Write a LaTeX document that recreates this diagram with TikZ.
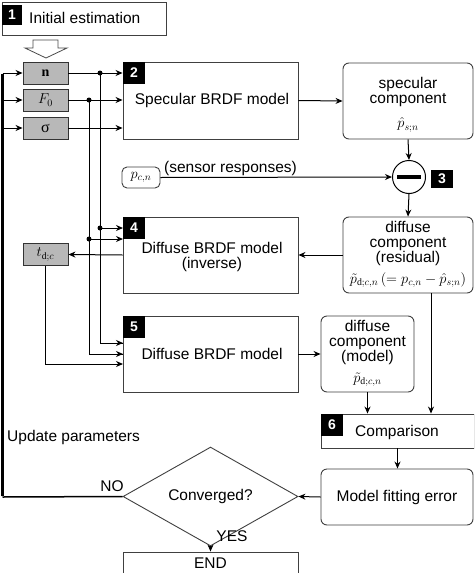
\documentclass[tikz,border=0pt]{standalone}
\usepackage{amsmath}
\usepackage{fontspec}
\setmainfont{Liberation Sans}
\newfontfamily\seriffont{Liberation Serif}
\usetikzlibrary{shapes.geometric,arrows.meta}
\newcommand{\fsz}{\fontsize{15.5}{16}\selectfont}
\newcommand{\msz}{\fontsize{14}{15}\selectfont}
\newcommand{\sd}{\text{\seriffont d}}
\tikzset{
  bx/.style={draw=black!75, line width=0.9pt, inner sep=0pt},
  rbx/.style={bx, rounded corners=6pt},
  prm/.style={draw=black!80, fill=black!28, line width=0.9pt, minimum width=45pt, minimum height=22pt, inner sep=0pt, font=\msz},
  num/.style={fill=black, text=white, font=\bfseries\fontsize{14}{14}\selectfont, minimum width=22pt, minimum height=22pt, inner sep=0pt},
  txt/.style={font=\fsz, inner sep=0pt, align=center},
  arr/.style={-{Stealth[length=7pt,width=6pt]}, line width=1pt},
  ln/.style={line width=1pt},
  jdot/.style={circle, fill, inner sep=0pt, minimum size=5pt},
}
\begin{document}
\begin{tikzpicture}[x=1pt,y=-1pt]
\clip (0,0) rectangle (474,573);
\fill[white] (0,0) rectangle (474,573);
% initial estimation
\node[bx, minimum width=164pt, minimum height=33pt] (init) at (84,18.5) {};
\node[num, minimum width=20pt, minimum height=20pt] (n1) at (12,15) {1};
\node[txt, anchor=west] (tinit) at (29,18) {Initial estimation};
\draw[draw=black!70, line width=0.8pt, fill=white] (33,40) -- (58,40) -- (58,48) -- (67,48) -- (46,58) -- (25,48) -- (33,48) -- cycle;
% parameter boxes
\node[prm] (pn) at (45.5,73) {{\seriffont\bfseries n}};
\node[prm] (pF) at (45.5,100) {$F_0$};
\node[prm] (ps) at (45.5,128) {{\seriffont\fontsize{16}{16}\selectfont σ}};
% specular BRDF
\node[bx, minimum width=175pt, minimum height=77pt] (spec) at (210.5,100.5) {};
\node[num] (n2) at (134,73) {2};
\node[txt] (tspec) at (212,100) {Specular BRDF model};
% specular component
\node[rbx, minimum width=130pt, minimum height=76pt] (specc) at (408,101) {};
\node[txt] (tspecc) at (408,92) {specular\\[-1pt]component};
\node[font=\msz, inner sep=0pt] (mspecc) at (408,125) {$\hat p_{s;n}$};
% minus circle
\node[circle, draw, line width=1pt, minimum size=33pt, inner sep=0pt] (circ) at (409,177) {};
\draw[line width=4pt] ([xshift=-12pt]circ.center) -- ([xshift=12pt]circ.center);
\node[num, minimum height=18pt] (n3) at (442,179) {3};
% sensor responses
\node[rbx, rounded corners=5pt, minimum width=38pt, minimum height=21pt, font=\msz] (pcn) at (141,177.5) {$p_{c,n}$};
\node[txt, anchor=south west] (tsens) at (164,176) {(sensor responses)};
% diffuse BRDF inverse
\node[bx, minimum width=175pt, minimum height=76pt] (b4) at (210.5,255) {};
\node[num] (n4) at (134,228) {4};
\node[txt] (tb4) at (212,257) {Diffuse BRDF model\\[-1pt](inverse)};
% residual
\node[rbx, minimum width=130pt, minimum height=76pt] (resid) at (408,255) {};
\node[txt] (tresid) at (408,243) {diffuse\\[-1pt]component\\[-1pt](residual)};
\node[font=\msz, inner sep=0pt] (mresid) at (408,280) {$\tilde p_{\sd;c,n}\,(=p_{c,n}-\hat p_{s;n})$};
% t box
\node[prm] (td) at (45.5,254.5) {$t_{\sd;c}$};
% diffuse BRDF model
\node[bx, minimum width=175pt, minimum height=76pt] (b5) at (210.5,354) {};
\node[num] (n5) at (134,327) {5};
\node[txt] (tb5) at (212,354) {Diffuse BRDF model};
% diffuse model component
\node[rbx, minimum width=93pt, minimum height=76pt] (model) at (367.5,354) {};
\node[txt] (tmodel) at (367.5,342) {diffuse\\[-1pt]component\\[-1pt](model)};
\node[font=\msz, inner sep=0pt] (mmodel) at (367.5,380) {$\tilde p_{\sd;c,n}$};
% comparison
\node[bx, minimum width=153pt, minimum height=34pt] (comp) at (397.5,431) {};
\node[num] (n6) at (332,425) {6};
\node[txt] (tcomp) at (397,432) {Comparison};
% fitting error
\node[rbx, minimum width=152pt, minimum height=56pt, font=\fsz] (fit) at (397,497) {Model fitting error};
% converged
\node[diamond, draw=black!75, line width=0.9pt, minimum width=175pt, minimum height=55pt, inner sep=0pt, font=\fsz] (conv) at (210.5,496.5) {Converged?};
% end
\node[bx, minimum width=175pt, minimum height=28pt] (endb) at (210.5,566) {};
\node[txt] (tend) at (210.5,563) {END};
% labels
\node[txt, anchor=west] (tupd) at (7,437) {Update parameters};
\node[txt] (tno) at (112,486) {NO};
\node[txt] (tyes) at (232,536) {YES};
% coordinates
\coordinate (fbT) at (2.5,73);
\coordinate (fbB) at (2.5,497);
\coordinate (dn) at (100,73);
\coordinate (dF) at (89,100);
\coordinate (b4n) at (123,228);
\coordinate (b4F) at (123,239);
\coordinate (b5n) at (123,343);
\coordinate (b5F) at (123,354);
\coordinate (b5t) at (123,364);
% feedback loop
\draw[line width=1.5pt] (conv.west) -- (fbB);
\draw[line width=2.5pt] ([yshift=0.75pt]fbB) -- ([yshift=-1pt]fbT);
\draw[arr] (fbT) -- (pn.west);
\draw[arr] (fbT |- pF) -- (pF.west);
\draw[arr] (fbT |- ps) -- (ps.west);
% params to specular
\draw[arr] (pn.east) -- (pn.east -| spec.west);
\draw[arr] (pF.east) -- (pF.east -| spec.west);
\draw[arr] (ps.east) -- (ps.east -| spec.west);
% branches
\node[jdot] (jn) at (dn) {};
\node[jdot] (jF) at (dF) {};
\draw[ln] (dn) |- (b5n);
\draw[ln] (dF) |- (b5F);
\draw[arr] (dn |- b4n) -- (b4n);
\draw[arr] (dF |- b4F) -- (b4F);
\draw[arr] ([xshift=-1pt]b5n) -- (b5n);
\draw[arr] ([xshift=-1pt]b5F) -- (b5F);
\node[jdot] (jn4) at (dn |- b4n) {};
\node[jdot] (jF4) at (dF |- b4F) {};
% t box
\draw[arr] (b4.west) -- (td.east);
\draw[arr] (td.south) |- (b5t);
% right side
\draw[arr] (spec.east) -- (specc.west);
\draw[arr] (specc.south) -- (circ.north);
\draw[arr] (pcn.east) -- (circ.west);
\draw[arr] (circ.south) -- (resid.north);
\draw[arr] (resid.west) -- (b4.east);
\draw[arr] (b5.east) -- (model.west);
\draw[arr] (model.south) -- (model.south |- comp.north);
\draw[arr] ([xshift=23pt]resid.south) -- ([xshift=23pt]resid.south |- comp.north);
\draw[arr] (comp.south) -- (comp.south |- fit.north);
\draw[arr] (fit.west) -- (conv.east);
\draw[arr] (conv.south) -- (endb.north);
\end{tikzpicture}
\end{document}
